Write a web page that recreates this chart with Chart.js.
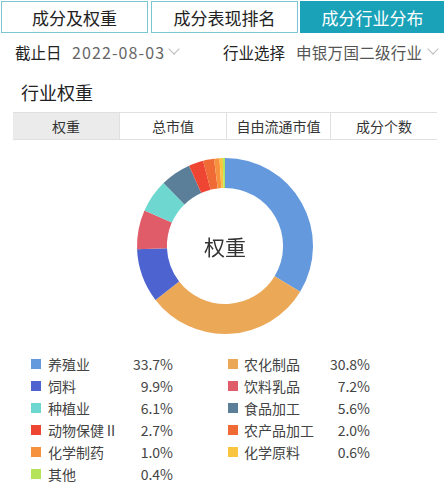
<!DOCTYPE html>
<html>
<head>
<meta charset="utf-8">
<script src="https://cdn.jsdelivr.net/npm/chart.js@4.4.0/dist/chart.umd.min.js"></script>
<style>
  html,body{margin:0;padding:0;background:#fff;}
  body{width:444px;height:500px;position:relative;overflow:hidden;font-family:"Noto Sans CJK SC","Noto Sans",sans-serif;}
  .abs{position:absolute;}
  .tab{position:absolute;top:1px;height:30px;border:1px solid #7cc6d2;box-sizing:content-box;display:flex;align-items:center;justify-content:center;font-size:17px;color:#222;}
  .seg{position:absolute;top:112px;height:28px;border-top:1px solid #e0e0e0;border-bottom:1px solid #e0e0e0;display:flex;align-items:center;justify-content:center;font-size:14px;color:#333;box-sizing:border-box;}
  .chev{position:absolute;width:7px;height:7px;border-right:1px solid #bbb;border-bottom:1px solid #bbb;transform:rotate(45deg);}
  .lg{position:absolute;font-size:14px;color:#444;line-height:18px;}
  .sq{position:absolute;width:10px;height:10px;}
</style>
</head>
<body>
<div class="tab" style="left:1px;width:145px;">成分及权重</div>
<div class="tab" style="left:151px;width:145px;">成分表现排名</div>
<div class="tab" style="left:300px;width:143px;background:#1aa2b9;border-color:#1aa2b9;color:#fff;">成分行业分布</div>

<div class="abs" style="left:15px;top:41px;font-size:15.5px;color:#222;line-height:22px;">截止日</div>
<div class="abs" style="left:72px;top:41px;font-size:16px;color:#666;line-height:22px;letter-spacing:1.1px;">2022-08-03</div>
<div class="chev" style="left:170px;top:45px;"></div>
<div class="abs" style="left:223px;top:41px;font-size:15.5px;color:#222;line-height:22px;">行业选择</div>
<div class="abs" style="left:296px;top:41px;font-size:15.5px;color:#555;line-height:22px;letter-spacing:0.3px;">申银万国二级行业</div>
<div class="chev" style="left:429px;top:45px;"></div>

<div class="abs" style="left:21px;top:80px;font-size:18px;color:#222;line-height:24px;">行业权重</div>

<div class="seg" style="left:13px;width:106px;background:#ebebeb;">权重</div>
<div class="seg" style="left:119px;width:107px;border-left:1px solid #e0e0e0;">总市值</div>
<div class="seg" style="left:226px;width:104px;border-left:1px solid #e0e0e0;">自由流通市值</div>
<div class="seg" style="left:330px;width:107px;border-left:1px solid #e0e0e0;">成分个数</div>

<div class="abs" style="left:135px;top:156px;width:180px;height:180px;">
  <canvas id="c" width="180" height="180"></canvas>
</div>
<div id="legend"></div>

<script>
const categories = ["养殖业","农化制品","饲料","饮料乳品","种植业","食品加工","动物保健Ⅱ","农产品加工","化学制药","化学原料","其他"];
const weights = [33.7, 30.8, 9.9, 7.2, 6.1, 5.6, 2.7, 2.0, 1.0, 0.6, 0.4];
const colors = ["#6499de","#eba857","#4c63d0","#e05c69","#6ed8d0","#5b7f99","#ef4634","#f06a36","#f6913e","#f9c43e","#b5e35a"];
const centerLabel = "权重";

const centerText = {
  id: 'centerText',
  afterDraw(chart) {
    const ctx = chart.ctx;
    const meta = chart.getDatasetMeta(0).data[0];
    ctx.save();
    ctx.font = '21px "Noto Sans CJK SC"';
    ctx.fillStyle = '#333';
    ctx.textAlign = 'center';
    ctx.textBaseline = 'middle';
    ctx.fillText(centerLabel, meta.x, meta.y + 1);
    ctx.restore();
  }
};

const chart = new Chart(document.getElementById('c'), {
  type: 'doughnut',
  data: {
    labels: categories,
    datasets: [{ data: weights, backgroundColor: colors, borderWidth: 0 }]
  },
  options: {
    responsive: false,
    animation: false,
    cutout: '66%',
    layout: { padding: 2 },
    plugins: { legend: { display: false }, tooltip: { enabled: false } }
  },
  plugins: [centerText]
});

// legend built from the chart's data
const lg = document.getElementById('legend');
const rowY = [364, 386, 408, 430, 452, 474];
chart.data.labels.forEach((name, i) => {
  const col = i % 2, row = Math.floor(i / 2);
  const y = rowY[row];
  const sqX = col ? 228 : 31, txX = col ? 244 : 48, valR = col ? 370 : 173;
  const sq = document.createElement('div');
  sq.className = 'sq';
  sq.style.left = sqX + 'px'; sq.style.top = (y - 5) + 'px';
  sq.style.background = chart.data.datasets[0].backgroundColor[i];
  lg.appendChild(sq);
  const t = document.createElement('div');
  t.className = 'lg';
  t.style.left = txX + 'px'; t.style.top = (y - 9) + 'px';
  t.textContent = name;
  lg.appendChild(t);
  const v = document.createElement('div');
  v.className = 'lg';
  v.style.left = (valR - 60) + 'px'; v.style.width = '60px'; v.style.textAlign = 'right';
  v.style.top = (y - 9) + 'px';
  v.textContent = chart.data.datasets[0].data[i].toFixed(1) + '%';
  lg.appendChild(v);
});
</script>
</body>
</html>
